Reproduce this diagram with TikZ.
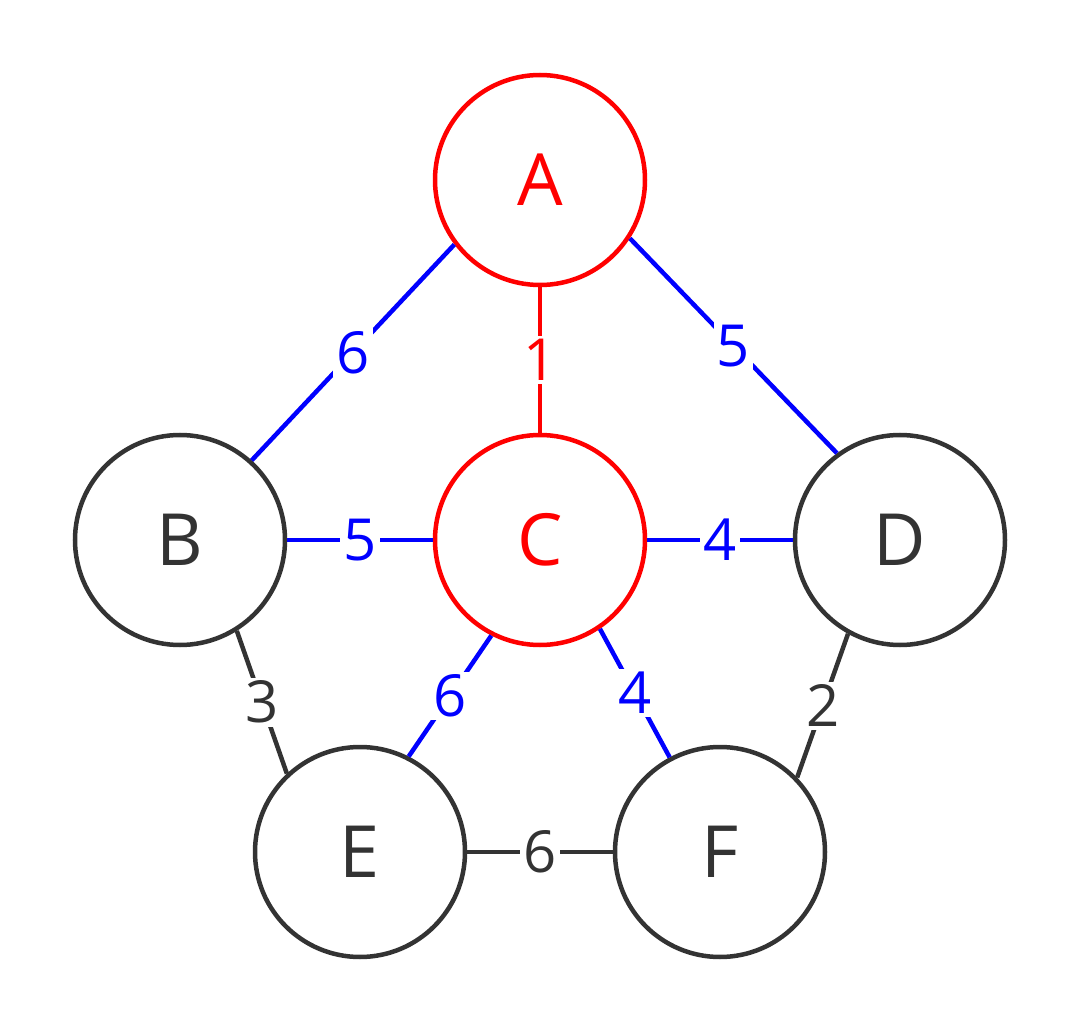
\documentclass[tikz,border=0pt]{standalone}
\usepackage{fontspec}
\setmainfont{Open Sans}
\definecolor{dg}{HTML}{333333}
\begin{document}
\begin{tikzpicture}[x=1pt,y=-1pt,
 vtx/.style={circle,draw=dg,line width=4.5pt,minimum size=210pt,inner sep=0pt,text=dg,font=\fontsize{72}{80}\selectfont},
 hot/.style={draw=red,text=red},
 lbl/.style={fill=white,inner sep=3pt,font=\fontsize{58}{64}\selectfont},
 ge/.style={line width=4.5pt,draw=dg,text=dg},
 be/.style={line width=4.5pt,draw=blue,text=blue},
 re/.style={line width=4.5pt,draw=red,text=red}]
\useasboundingbox (0,0) rectangle (1080,1032);
\node[vtx,hot] (A) at (540,180) {A};
\node[vtx] (B) at (180,540) {B};
\node[vtx,hot] (C) at (540,540) {C};
\node[vtx] (D) at (900,540) {D};
\node[vtx] (E) at (360,852) {E};
\node[vtx] (F) at (720,852) {F};
\draw[be] (A.-143) -- node[lbl]{6} (B.48);
\draw[re] (A) -- node[lbl]{1} (C);
\draw[be] (A.-33) -- node[lbl]{5} (D.126);
\draw[be] (B) -- node[lbl]{5} (C);
\draw[be] (C) -- node[lbl]{4} (D);
\draw[ge] (B.-58) -- node[lbl]{3} (E.133);
\draw[be] (C.-117) -- node[lbl]{6} (E.63);
\draw[be] (C.-56) -- node[lbl]{4} (F.118);
\draw[ge] (D.-119) -- node[lbl]{2} (F.44);
\draw[ge] (E) -- node[lbl]{6} (F);
\end{tikzpicture}
\end{document}
